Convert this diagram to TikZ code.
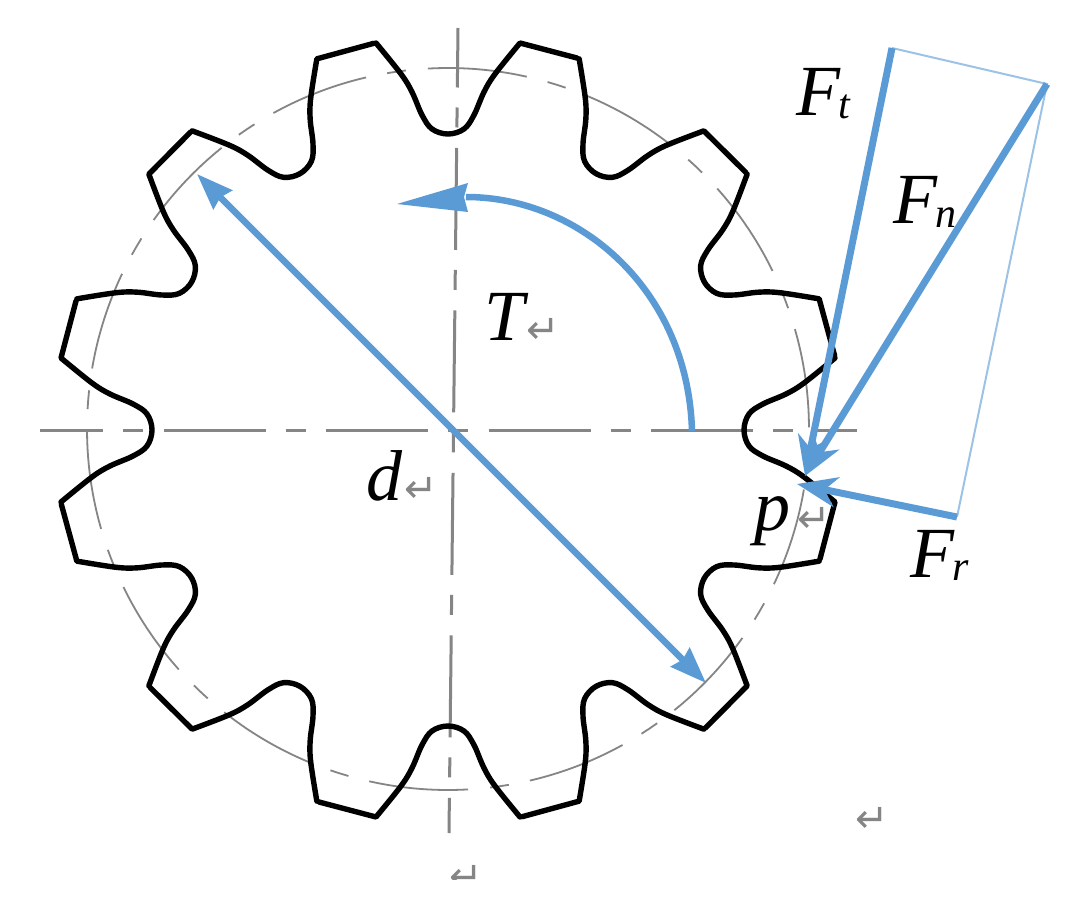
\documentclass[tikz,border=0pt]{standalone}
\usepackage{fontspec}
\setmainfont{Liberation Serif}
\newfontfamily\retfont{DejaVu Sans}
\usetikzlibrary{arrows.meta}
\definecolor{fblue}{HTML}{5B9BD5}
\definecolor{lblue}{HTML}{9CC3E6}
\definecolor{cgray}{HTML}{858585}
\newcommand{\bigit}[1]{{\fontsize{72}{72}\selectfont\itshape #1}}
\newcommand{\subit}[1]{{\fontsize{42}{42}\selectfont\itshape #1}}
\newcommand{\retmark}{{\retfont\fontsize{40}{40}\selectfont\symbol{"21B5}}}
\tikzset{
  x=1pt,y=-1pt,
  gearline/.style={draw=black,line width=5.4pt,line join=round,line cap=round},
  centreline/.style={draw=cgray,line width=3pt,dash pattern=on 102pt off 20pt on 20pt off 20.5pt},
  pitchline/.style={draw=cgray,line width=1.8pt},
  forcearrow/.style={draw=fblue,line width=7pt,-{Stealth[length=40pt,width=30pt,inset=12pt]}},
  diaarrow/.style={draw=fblue,line width=6.5pt,{Stealth[length=36pt,width=26pt,inset=3pt]}-{Stealth[length=36pt,width=26pt,inset=3pt]}},
  guide/.style={draw=lblue,line width=2pt},
  lab/.style={anchor=base west,inner sep=0pt,text=black},
  ret/.style={anchor=base west,inner sep=0pt,text=cgray}
}
\begin{document}
\begin{tikzpicture}
\useasboundingbox (0,0) rectangle (1080,902);
\fill[white] (0,0) rectangle (1080,902);
% pitch circle
\foreach \k in {0,...,13}{
  \pgfmathsetmacro{\aa}{93.2-25.714*\k}
  \pgfmathsetmacro{\ab}{\aa-15.8}
  \pgfmathsetmacro{\ac}{\aa+3.5}
  \pgfmathsetmacro{\ad}{\aa+6.5}
  \draw[pitchline,shift={(448,429)}] plot[domain=\aa:\ab,samples=12,smooth] (-\x:361);
  \draw[pitchline,shift={(448,429)}] plot[domain=\ac:\ad,samples=3] (-\x:361);
}
% centre lines
\coordinate (hl) at (40,430);
\coordinate (hr) at (857,430);
\coordinate (vt) at (458,28);
\coordinate (vb) at (449,833);
\draw[centreline,dash phase=39pt] (hl) -- (hr);
\draw[centreline,dash phase=42.5pt] (vt) -- (vb);
% gear
\foreach \a in {0,30,...,330}{
  \begin{scope}[shift={(448,430)},rotate=\a]
    \draw[gearline] plot[smooth,tension=0.6] coordinates {(-72,-387)(-47,-356)(-36,-338)(-26,-315)(-16,-301)(0,-296)(16,-301)(26,-315)(36,-338)(47,-356)(72,-387)} -- (129,-372);
  \end{scope}
}
% guides
\coordinate (ft) at (892,48);
\coordinate (fn) at (1047,84);
\coordinate (fr) at (957,517);
\coordinate (pt) at (805,476);
\coordinate (prt) at (797,484);
\draw[guide] (ft) -- (fn) -- (fr);
% force arrows
\draw[forcearrow] (ft) -- (pt);
\draw[forcearrow] (fn) -- (pt);
\draw[forcearrow] (fr) -- (prt);
% diameter
\coordinate (d1) at (197,174);
\coordinate (d2) at (706,683);
\draw[diaarrow] (d1) -- (d2);
% torque
\coordinate (ts) at (692,431);
\coordinate (te) at (466,197);
\coordinate (ttip) at (397,204);
\draw[draw=fblue,line width=6.5pt] (ts) .. controls (688,290) and (580,197) .. (te);
\fill[fblue] (ttip) -- (468,183) -- (464,197) -- (468,212) -- cycle;
% labels
\node[lab] (lt) at (796,115) {\bigit{F}\kern-2pt\raisebox{-3pt}{\subit{t}}};
\node[lab] (ln) at (893,223) {\bigit{F}\kern-2pt\raisebox{-4pt}{\subit{n}}};
\node[lab] (lr) at (910,577) {\bigit{F}\kern-2pt\raisebox{-3pt}{\subit{r}}};
\node[lab] (lT) at (484,340) {\bigit{T}};
\node[lab] (ld) at (366,500) {\bigit{d}};
\node[lab] (lp) at (754,530) {\bigit{p}};
\node[ret] (r1) at (526,343) {\retmark};
\node[ret] (r2) at (404,502) {\retmark};
\node[ret] (r3) at (797,532) {\retmark};
\node[ret] (r4) at (855,832) {\retmark};
\begin{scope}
  \clip (440,850) rectangle (490,879);
  \node[ret] (r5) at (449,890) {\retmark};
\end{scope}
\end{tikzpicture}
\end{document}
